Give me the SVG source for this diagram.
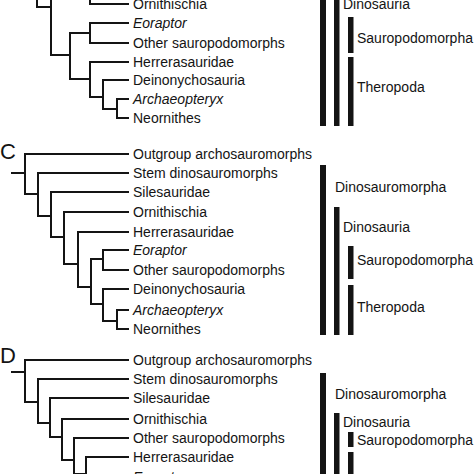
<svg xmlns="http://www.w3.org/2000/svg" width="474" height="474" viewBox="0 0 474 474">
<style>
.t{font-family:"Liberation Sans",Arial,sans-serif;font-size:14px;fill:#141414}
.i{font-style:italic}
.p{font-family:"Liberation Sans",Arial,sans-serif;font-size:22px;fill:#141414}
.e{fill:none;stroke:#141414;stroke-width:2;stroke-linecap:square;stroke-linejoin:miter}
.b{fill:#141414}
</style>
<rect width="474" height="474" fill="#fff"/>
<g id="connectors">
<!-- panel B (partial) -->
<path class="e" d="M37 -2V7H51M51 -2V55H70M70 33V79M70 33H90M90 23V43M90 23H128M90 43H128M70 79H90M90 62V97M90 62H128M90 97H103M103 80V109M103 80H128M103 109H117M117 99V118M117 99H128M117 118H128M90 -2V4H128"/>
<!-- panel C -->
<path class="e" d="M12 173H25M25 154V194M25 154H128M25 194H38M38 173V216M38 173H128M38 216H51M51 192V237M51 192H128M51 237H64M64 212V264M64 212H128M64 264H78M78 232V287M78 232H128M78 287H91M91 259V304M91 259H103M103 250V270M103 250H128M103 270H128M91 304H103M103 289V321M103 289H128M103 321H117M117 310V329M117 310H128M117 329H128"/>
<!-- panel D -->
<path class="e" d="M12 372H25M25 360V402M25 360H128M25 402H38M38 379V423M38 379H128M38 423H50M50 398V437M50 398H128M50 437H62M62 419V460M62 419H128M62 460H74M74 438V480M74 438H128M86 457V480M86 457H128M74 474H86"/>
</g>
<g id="panel-labels">
<text class="p" x="0" y="159">C</text>
<text class="p" x="0" y="363">D</text>
</g>
<g id="leaves-B">
<g id="B-ornithischia"><text class="t" x="133" y="9">Ornithischia</text></g>
<g id="B-eoraptor"><text class="t i" x="133" y="28">Eoraptor</text></g>
<g id="B-other-sauropodomorphs"><text class="t" x="133" y="48">Other sauropodomorphs</text></g>
<g id="B-herrerasauridae"><text class="t" x="133" y="67">Herrerasauridae</text></g>
<g id="B-deinonychosauria"><text class="t" x="133" y="85">Deinonychosauria</text></g>
<g id="B-archaeopteryx"><text class="t i" x="133" y="104">Archaeopteryx</text></g>
<g id="B-neornithes"><text class="t" x="133" y="123">Neornithes</text></g>
</g>
<g id="leaves-C">
<g id="C-outgroup"><text class="t" x="133" y="159">Outgroup archosauromorphs</text></g>
<g id="C-stem"><text class="t" x="133" y="178">Stem dinosauromorphs</text></g>
<g id="C-silesauridae"><text class="t" x="133" y="197">Silesauridae</text></g>
<g id="C-ornithischia"><text class="t" x="133" y="217">Ornithischia</text></g>
<g id="C-herrerasauridae"><text class="t" x="133" y="237">Herrerasauridae</text></g>
<g id="C-eoraptor"><text class="t i" x="133" y="255">Eoraptor</text></g>
<g id="C-other-sauropodomorphs"><text class="t" x="133" y="275">Other sauropodomorphs</text></g>
<g id="C-deinonychosauria"><text class="t" x="133" y="294">Deinonychosauria</text></g>
<g id="C-archaeopteryx"><text class="t i" x="133" y="315">Archaeopteryx</text></g>
<g id="C-neornithes"><text class="t" x="133" y="334">Neornithes</text></g>
</g>
<g id="leaves-D">
<g id="D-outgroup"><text class="t" x="133" y="365">Outgroup archosauromorphs</text></g>
<g id="D-stem"><text class="t" x="133" y="384">Stem dinosauromorphs</text></g>
<g id="D-silesauridae"><text class="t" x="133" y="403">Silesauridae</text></g>
<g id="D-ornithischia"><text class="t" x="133" y="424">Ornithischia</text></g>
<g id="D-other-sauropodomorphs"><text class="t" x="133" y="443">Other sauropodomorphs</text></g>
<g id="D-herrerasauridae"><text class="t" x="133" y="462">Herrerasauridae</text></g>
<g id="D-eoraptor"><text class="t i" x="133" y="482">Eoraptor</text></g>
</g>
<g id="clades-B">
<rect class="b" x="320" y="-2" width="6" height="128"/>
<rect class="b" x="334" y="-2" width="5.5" height="128"/>
<g id="B-dinosauria"><text class="t" x="343" y="9">Dinosauria</text></g>
<g id="B-sauropodomorpha"><rect class="b" x="348" y="17" width="5.5" height="36"/><text class="t" x="357" y="43">Sauropodomorpha</text></g>
<g id="B-theropoda"><rect class="b" x="348" y="57" width="5.5" height="69"/><text class="t" x="357" y="92">Theropoda</text></g>
</g>
<g id="clades-C">
<g id="C-dinosauromorpha"><rect class="b" x="320" y="165" width="6" height="170"/><text class="t" x="335" y="192">Dinosauromorpha</text></g>
<g id="C-dinosauria"><rect class="b" x="334" y="207" width="5.5" height="128"/><text class="t" x="343" y="232">Dinosauria</text></g>
<g id="C-sauropodomorpha"><rect class="b" x="348" y="246" width="5.5" height="33"/><text class="t" x="357" y="265">Sauropodomorpha</text></g>
<g id="C-theropoda"><rect class="b" x="348" y="285" width="5.5" height="50"/><text class="t" x="357" y="312">Theropoda</text></g>
</g>
<g id="clades-D">
<g id="D-dinosauromorpha"><rect class="b" x="320" y="373" width="6" height="110"/><text class="t" x="335" y="399">Dinosauromorpha</text></g>
<g id="D-dinosauria"><rect class="b" x="334" y="413" width="5.5" height="70"/><text class="t" x="343" y="427">Dinosauria</text></g>
<g id="D-sauropodomorpha"><rect class="b" x="348" y="432" width="5.5" height="15"/><text class="t" x="357" y="445">Sauropodomorpha</text></g>
<g id="D-theropoda"><rect class="b" x="348" y="452" width="5.5" height="31"/></g>
</g>
</svg>
